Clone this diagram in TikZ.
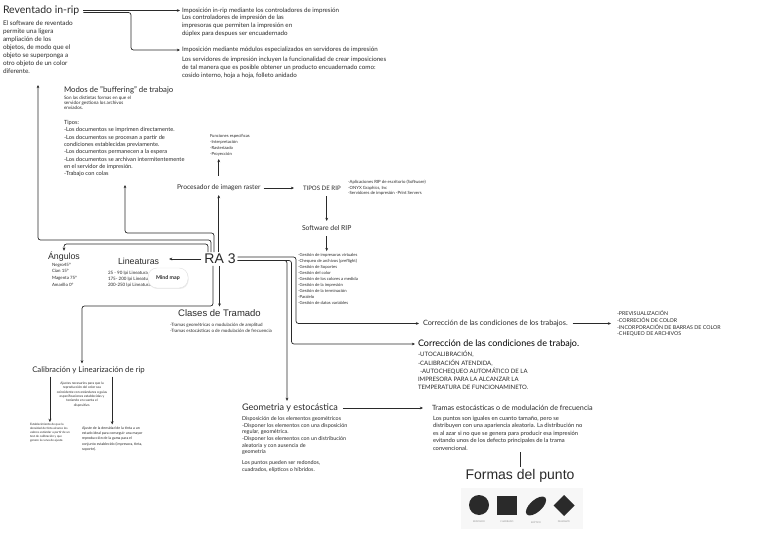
\documentclass[tikz,border=0pt]{standalone}
\usepackage{fontspec}
\setmainfont{Lato}
\newfontfamily\hfont{Liberation Sans}
\usetikzlibrary{arrows.meta,shadows}
\definecolor{ink}{HTML}{2A2A2A}
\newcommand\fsz[2]{\fontsize{#1}{#2}\selectfont}
\begin{document}
\begin{tikzpicture}[x=1pt,y=-1pt,
  every node/.style={inner sep=0pt, outer sep=0pt, text=ink},
  lbl/.style={anchor=west},
  blk/.style={anchor=north west, align=left},
  conn/.style={draw=ink, line width=0.7pt, rounded corners=2.5pt},
  arr/.style={conn, -{Stealth[length=3.2pt,width=2.8pt]}},
]
\fill[white] (0,0) rectangle (768,534);
\useasboundingbox (0,0) rectangle (768,534);

% Reventado
\node[lbl, font=\fsz{10.5}{12}] (rev) at (3,10.5) {Reventado in-rip};
\node[blk, font=\fsz{6.4}{8}] (revb) at (3,21.2) {El software de reventado\\permite una ligera\\ampliación de los\\objetos, de modo que el\\objeto se superponga a\\otro objeto de un color\\diferente.};
\node[lbl, font=\fsz{6.2}{8}] (imp1) at (182,10.5) {Imposición in-rip mediante los controladores de impresión};
\node[blk, font=\fsz{6.2}{8}] (imp1b) at (182,15.2) {Los controladores de impresión de las\\impresoras que permiten la impresión en\\dúplex para despues ser encuadernado};
\node[lbl, font=\fsz{6.2}{8}] (imp2) at (182,50) {Imposición mediante módulos especializados en servidores de impresión};
\node[blk, font=\fsz{6.2}{8}] (imp2b) at (182,57.2) {Los servidores de impresión incluyen la funcionalidad de crear imposiciones\\de tal manera que es posible obtener un producto encuadernado como:\\cosido interno, hoja a hoja, folleto anidado};
\draw[arr, shorten >=2pt] ([xshift=4pt]rev.east) -- (rev.east -| imp1.west);
\draw[arr, shorten >=2pt] ([xshift=4pt,yshift=-2pt]rev.east) -| (131,30) |- (imp2.west);

% Modos de buffering
\node[lbl, font=\fsz{7.8}{9}] (modos) at (64,90) {Modos de "buffering" de trabajo};
\node[blk, font=\fsz{4.6}{5.3}] (modosb) at (64,96) {Son las distintas formas en que el\\servidor gestiona los archivos\\enviados.};
\node[blk, font=\fsz{5.7}{7.3}] (tipos) at (64,120.5) {Tipos:\\-Los documentos se imprimen directamente.\\-Los documentos se procesan a partir de\\condiciones establecidas previamente.\\-Los documentos permanecen a la espera\\-Los documentos se archivan intermitentemente\\en el servidor de impresión.\\-Trabajo con colas};

% Procesador
\node[blk, font=\fsz{4.2}{6}] (fun) at (210,134.2) {Funciones específicas\\-Interpretación\\-Rasterizado\\-Proyección};
\node[lbl, font=\fsz{6.7}{8}] (proc) at (177,188) {Procesador de imagen raster};
\node[lbl, font=\fsz{6.1}{8}] (rip) at (303,188) {TIPOS DE RIP};
\node[blk, font=\fsz{4.3}{5.6}] (ripl) at (348,180.2) {-Aplicaciones RIP de escritorio (Software)\\-ONYX Graphics, Inc\\-Servidores de impresión -Print Servers};
\node[lbl, font=\fsz{6.8}{8}] (soft) at (302,228.5) {Software del RIP};
\node[blk, font=\fsz{4.2}{6.1}] (gest) at (298,253.1) {-Gestión de impresoras virtuales\\-Chequeo de archivos (preflight)\\-Gestión de Soportes\\-Gestión del color\\-Gestión de los colores a medida\\-Gestión de la impresión\\-Gestión de la terminación\\-Paralelo\\-Gestión de datos variables};
\draw[arr, shorten <=9pt, shorten >=3pt] (proc.north) -- (proc.north |- fun.south);
\draw[arr, shorten <=3pt, shorten >=9pt] (proc.east) -- (rip.west);
\draw[arr, shorten <=6pt, shorten >=5pt] (soft.north |- rip.south) -- (soft.north);
\draw[arr, shorten <=5pt, shorten >=2pt] (soft.south) -- (soft.south |- gest.north);

% RA 3
\node[font=\hfont\fsz{14}{16}, inner sep=2pt] (ra) at (220,259) {RA 3};

% Angulos y lineaturas
\node[font=\hfont\fsz{8.8}{10}] (ang) at (64,256.5) {Ángulos};
\node[blk, font=\fsz{4.4}{6.8}] (angl) at (52,263) {Negro45°\\Cian 15°\\Magenta 75°\\Amarillo 0°};
\node[lbl, font=\hfont\fsz{8.8}{10}] (lin) at (118,261) {Lineaturas};
\node[blk, font=\fsz{4.5}{6.2}] (linl) at (108,271) {25 - 90 lpi Lineatura\\175- 200 lpi Lineatura\\200-250 lpi Lineatura};
\node[draw=black!12, fill=white, rounded corners=9pt, minimum width=40pt, minimum height=20pt,
      font=\bfseries\fsz{5.3}{6}, drop shadow={opacity=0.15, shadow xshift=0.6pt, shadow yshift=-1pt}] (mm) at (168,278) {Mind map};

% Connectors from RA 3 upwards / left
\coordinate (cB) at (38,85);
\coordinate (cC) at (125,185);
\draw[arr, shorten >=1pt] ([xshift=-12pt]ra.north) |- (ang.north |- 0,244) -- (ang.north);
\draw[arr] ([xshift=-9pt]ra.north) |- (38,240) -- (cB);
\draw[arr] ([xshift=-6pt]ra.north) |- (125,233) -- (cC);
\draw[arr, shorten >=4pt] (proc.south |- ra.north) -- (proc.south);
\draw[arr, shorten <=1pt, shorten >=10pt] (ra.west) -- (ra.west -| lin.east);

% Clases de Tramado
\node[font=\hfont\fsz{9.5}{11}] (clases) at (219.5,313) {Clases de Tramado};
\node[blk, font=\fsz{4.5}{6}] (clasesl) at (170,322.8) {-Tramas geométricas o modulación de amplitud\\-Tramas estocásticas o de modulación de frecuencia};
\draw[arr, shorten >=3pt] (clases.north |- ra.south) -- (clases.north);

% Calibracion
\node[font=\fsz{7.8}{9}] (calib) at (88.5,370) {Calibración y Linearización de rip};
\node[align=center, font=\fsz{3.3}{4.3}] (calc) at (82,394.5) {Ajustes necesarios para que la\\reproducción del color sea\\coincidente con estándares o guías\\especificaciones establecidas y\\teniendo en cuenta el\\dispositivo.};
\node[blk, font=\fsz{3}{4}] (calL) at (30,423.5) {Establecimiento de que la\\densidad de tinta alcance los\\valores estándar a partir de un\\test de calibración y que\\genere la curva de ajuste.};
\node[blk, font=\fsz{3.6}{5.3}] (calR) at (82,426.5) {Ajuste de la densidad de la tinta a un\\estado ideal para conseguir una mayor\\reproducción de la gama para el\\conjunto establecido (impresora, tinta,\\soporte).};
\coordinate (cI) at (82,306);
\draw[arr, shorten >=3pt] ([xshift=-7pt]ra.south) |- (cI) -- (cI |- calib.north);
\draw[arr, shorten <=3pt, shorten >=1.5pt] (calib.south -| calL.north) -- (calL.north);
\draw[arr, shorten <=3pt, shorten >=2pt] (calib.south -| calR.north) -- (calR.north);

% Correccion
\node[lbl, font=\fsz{7.3}{8}] (corr1) at (423,323.5) {Corrección de las condiciones de los trabajos.};
\node[anchor=west, align=left, font=\fsz{5.3}{6.9}] (prev) at (617,323.5) {-PREVISUALIZACIÓN\\-CORRECIÓN DE COLOR\\-INCORPORACIÓN DE BARRAS DE COLOR\\-CHEQUEO DE ARCHIVOS};
\draw[arr, shorten <=5pt, shorten >=6pt] (corr1.east) -- (prev.west);
\node[lbl, font=\fsz{9}{10}, text=black] (corr2) at (418,344) {Corrección de las condiciones de trabajo.};
\node[blk, font=\fsz{6}{8.2}] (corr2l) at (418,351.3) {-UTOCALIBRACIÓN,\\-CALIBRACIÓN ATENDIDA,\\\hspace*{2pt}-AUTOCHEQUEO AUTOMÁTICO DE LA\\IMPRESORA PARA LA ALCANZAR LA\\TEMPERATURA DE FUNCIONAMINETO.};
\draw[arr, shorten >=4pt] ([yshift=2pt]ra.east) -| (296,323.5) -- (corr1.west);
\draw[arr, shorten >=3pt] ([yshift=-1.5pt]ra.east) -| (291.5,344) -- (corr2.west);

% Geometria y estocastica
\node[lbl, font=\fsz{9.1}{10}] (geo) at (242,408) {Geometria y estocástica};
\node[blk, font=\fsz{5.4}{6.7}] (geob) at (242,416.5) {Disposición de los elementos geométricos\\-Disponer los elementos con una disposición\\regular, geométrica.\\-Disponer los elementos con un distribución\\aleatoria y con ausencia de\\geometría};
\node[blk, font=\fsz{5.4}{6.7}] (geoc) at (242,460.5) {Los puntos pueden ser redondos,\\cuadrados, elípticos o híbridos.};
\draw[arr, shorten >=3pt] ([yshift=-1.5pt]ra.east) -| (geo.north -| 287,0);
\node[lbl, font=\fsz{7.2}{8}] (est) at (432,408) {Tramas estocásticas o de modulación de frecuencia};
\node[blk, font=\fsz{5.8}{7.4}] (estb) at (433,416.3) {Los puntos son iguales en cuanto tamaño, pero se\\distribuyen con una apariencia aleatoria. La distribución no\\es al azar si no que se genera para producir esa impresión\\evitando unos de los defecto principales de la trama\\convencional.};
\draw[arr, shorten <=5pt, shorten >=9pt] (geo.east) -- (est.west);

% Formas del punto
\node[font=\hfont\fsz{14}{16}] (formas) at (520,475.5) {Formas del punto};
\draw[conn, shorten <=2pt, shorten >=2pt] (formas.north |- estb.south) -- (formas.north);
\fill[black!3] (461,488) rectangle (583,529);
\fill[ink] (479,505) circle[radius=10pt];
\fill[ink] (497,496) rectangle (517,515);
\fill[ink, rotate around={42:(536,506)}] (536,506) ellipse[x radius=12.5pt, y radius=6pt];
\fill[ink] (564,495) -- (574.5,505.5) -- (564,516) -- (553.5,505.5) -- cycle;
\node[font=\fsz{2.3}{3}, text=black!45] (f1) at (479,522) {REDONDO};
\node[font=\fsz{2.3}{3}, text=black!45] (f2) at (507,522) {CUADRADO};
\node[font=\fsz{2.3}{3}, text=black!45] (f3) at (536,522) {ELÍPTICO};
\node[font=\fsz{2.3}{3}, text=black!45] (f4) at (564,522) {DIAMANTE};
\end{tikzpicture}
\end{document}
